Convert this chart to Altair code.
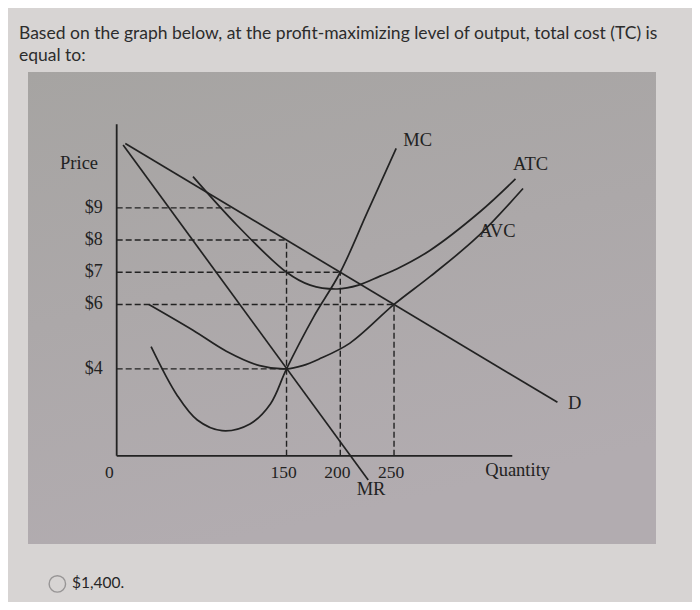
import altair as alt
import pandas as pd

# frame of the drawing, in its own units (quantity, price)
Q_DOMAIN = [-90.5, 493.7]
P_DOMAIN = [-1.44, 13.22]
Q_AXIS, Q_END = -8, 360
P_AXIS, P_TOP = 1.3, 11.6

# curves
d_q = [0, 402]
d_p = [11.0, 2.96]
mr_q = [-2, 226]
mr_p = [10.95, 0.55]
mc_q = [24, 48, 67, 90, 116, 135, 150, 175, 200, 225, 252]
mc_p = [4.69, 3.19, 2.41, 2.08, 2.29, 2.91, 4.0, 5.6, 7.0, 8.85, 10.85]
atc_q = [63, 104, 150, 172, 197, 217, 237, 253, 283, 330, 363]
atc_p = [9.97, 8.46, 7.0, 6.6, 6.48, 6.6, 6.88, 7.11, 7.67, 8.88, 9.9]
avc_q = [22, 63, 94, 125, 150, 165, 180, 209, 250, 284, 327, 370]
avc_p = [6.0, 5.2, 4.55, 4.1, 4.0, 4.1, 4.3, 4.8, 6.0, 6.88, 8.08, 9.6]

# dashed guide lines
guide_prices = [9, 8, 7, 6, 4]
guide_price_ends = [100, 150, 200, 250, 150]
guide_qtys = [150, 200, 250]
guide_qty_ends = [8, 7, 6]

price_labels = ["$9", "$8", "$7", "$6", "$4"]
qty_labels = ["0", "150", "200", "250"]
qty_label_q = [-12, 150, 200, 250]

curve_names = ["D", "MR", "MC", "ATC", "AVC", "Quantity", "Price"]
curve_label_q = [418, 228.6, 272, 377, 346, 365, -43]
curve_label_p = [2.95, 0.26, 11.1, 10.37, 8.28, 0.86, 10.39]

QUESTION = [
    "Based on the graph below, at the profit-maximizing level of output, total cost (TC) is",
    "equal to:",
]
ANSWER = "$1,400."

W, H = 628, 472
INK = "#222222"
SERIF = "Liberation Serif"

x_scale = alt.Scale(domain=Q_DOMAIN, nice=False, zero=False)
y_scale = alt.Scale(domain=P_DOMAIN, nice=False, zero=False)


def xq(field="q"):
    return alt.X(f"{field}:Q", scale=x_scale, axis=None)


def yp(field="p"):
    return alt.Y(f"{field}:Q", scale=y_scale, axis=None)


curves = pd.concat([
    pd.DataFrame({"curve": name, "q": q, "p": p})
    for name, q, p in [("D", d_q, d_p), ("MR", mr_q, mr_p), ("MC", mc_q, mc_p),
                       ("ATC", atc_q, atc_p), ("AVC", avc_q, avc_p)]
])

axes_df = pd.DataFrame({
    "q": [Q_AXIS, Q_AXIS], "q2": [Q_AXIS, Q_END],
    "p": [P_AXIS, P_AXIS], "p2": [P_TOP, P_AXIS],
})

guides_df = pd.concat([
    pd.DataFrame({"q": Q_AXIS, "q2": guide_price_ends, "p": guide_prices, "p2": guide_prices}),
    pd.DataFrame({"q": guide_qtys, "q2": guide_qtys, "p": P_AXIS, "p2": guide_qty_ends}),
])

panel = alt.Chart(pd.DataFrame({"a": [0]})).mark_rect(
    color={"gradient": "linear", "x1": 0, "y1": 0, "x2": 0.3, "y2": 1,
           "stops": [{"offset": 0, "color": "#a6a4a2"},
                     {"offset": 1, "color": "#b2acb0"}]}
).encode(x=alt.value(0), x2=alt.value(W), y=alt.value(0), y2=alt.value(H))

axes = alt.Chart(axes_df).mark_rule(color=INK, strokeWidth=1.8).encode(
    x=xq(), x2="q2:Q", y=yp(), y2="p2:Q"
)

guides = alt.Chart(guides_df).mark_rule(
    color=INK, strokeWidth=1.4, strokeDash=[6, 3]
).encode(x=xq(), x2="q2:Q", y=yp(), y2="p2:Q")

lines = alt.Chart(curves).mark_line(
    color=INK, strokeWidth=1.7, interpolate="catmull-rom"
).encode(x=xq(), y=yp(), detail="curve:N")

price_text = alt.Chart(
    pd.DataFrame({"label": price_labels, "p": guide_prices, "q": -21})
).mark_text(font=SERIF, fontSize=18, color=INK, align="right", baseline="middle").encode(
    x=xq(), y=yp(), text="label:N"
)

qty_text = alt.Chart(
    pd.DataFrame({"label": qty_labels, "q": qty_label_q, "p": 0.76})
).mark_text(font=SERIF, fontSize=17.5, color=INK, align="center", baseline="middle", dx=-3).encode(
    x=xq(), y=yp(), text="label:N"
)

names_text = alt.Chart(
    pd.DataFrame({"label": curve_names, "q": curve_label_q, "p": curve_label_p})
).mark_text(font=SERIF, fontSize=18.5, color=INK, align="center", baseline="middle").encode(
    x=xq(), y=yp(), text="label:N"
)

radio = alt.Chart(pd.DataFrame({"q": [-63.2], "p": [-2.68]})).mark_point(
    shape="circle", size=270, filled=False, color="#7d7b7c", strokeWidth=1.4
).encode(x=xq(), y=yp())

answer = alt.Chart(pd.DataFrame({"label": [ANSWER], "q": [-49.5], "p": [-2.66]})).mark_text(
    font="Lato", fontSize=15.5, color="#262626", align="left", baseline="middle"
).encode(x=xq(), y=yp(), text="label:N")

chart = alt.layer(
    panel, axes, guides, lines, price_text, qty_text, names_text, radio, answer
).properties(
    width=W,
    height=H,
    padding={"left": 20, "top": 64, "right": 36, "bottom": 58},
    autosize=alt.AutoSizeParams(type="none"),
    background="#d7d4d3",
    title=alt.TitleParams(
        text=QUESTION, anchor="start", frame="group", dx=-9, dy=20, offset=14,
        font="Lato", fontSize=17.5, fontWeight="normal", color="#2c2c2c",
        lineHeight=22, baseline="alphabetic",
    ),
).configure_view(strokeWidth=0)

chart.save("out.html", embed_options={"renderer": "svg", "actions": False})
